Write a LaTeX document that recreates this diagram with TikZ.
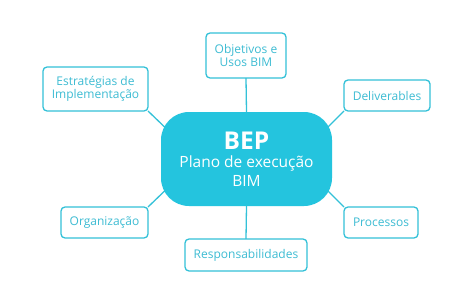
\documentclass[tikz,border=0pt]{standalone}
\usepackage{fontspec}
\setmainfont{Open Sans}
\usetikzlibrary{backgrounds,calc}
\definecolor{bepfill}{HTML}{24C4DE}
\definecolor{bepline}{HTML}{33C1D8}
\definecolor{beptext}{HTML}{3DBCD3}
\tikzset{
  leaf/.style={draw=bepline, line width=1.3pt, fill=white, rounded corners=4pt,
    text=beptext, font=\fontsize{12}{13.3}\selectfont, align=center,
    inner sep=0pt, outer sep=0pt},
  link/.style={draw=bepline, line width=1.3pt},
}
\begin{document}
\begin{tikzpicture}[x=1pt,y=-1pt]
\useasboundingbox (0,0) rectangle (474,305);
\node[fill=bepfill, rounded corners=28pt, minimum width=171pt, minimum height=94pt,
  inner sep=0pt, text=white, align=center, font=\fontsize{15.5}{18.3}\selectfont] (c) at (246.5,159)
  {{\fontsize{24.5}{18.3}\selectfont\bfseries BEP}\\
   Plano de execução\\
   BIM};
\node[leaf, minimum width=80pt, minimum height=45pt] (obj) at (246,55.5) {Objetivos e\\Usos BIM};
\node[leaf, minimum width=105pt, minimum height=44pt] (est) at (95.5,89) {Estratégias de\\Implementação};
\node[leaf, minimum width=86pt, minimum height=31pt] (del) at (387,95.5) {Deliverables};
\node[leaf, minimum width=87pt, minimum height=31pt] (org) at (104.5,222.5) {Organização};
\node[leaf, minimum width=74pt, minimum height=31pt] (pro) at (381,222.5) {Processos};
\node[leaf, minimum width=122pt, minimum height=32pt] (res) at (246,255) {Responsabilidades};
\coordinate (cnw) at ($(c.center)+(-71.5,-22)$);
\coordinate (csw) at ($(c.center)+(-71.5,22)$);
\coordinate (cne) at ($(c.center)+(71.5,-22)$);
\coordinate (cse) at ($(c.center)+(71.5,22)$);
\begin{pgfonlayer}{background}
\fill[white] (0,0) rectangle (474,305);
\draw[link] (obj.south) -- (c.north);
\draw[link] (res.north) -- (c.south);
\draw[link] (est.south east) -- (cnw);
\draw[link] (org.north east) -- (csw);
\draw[link] (del.south west) -- (cne);
\draw[link] (pro.north west) -- (cse);
\end{pgfonlayer}
\end{tikzpicture}
\end{document}
